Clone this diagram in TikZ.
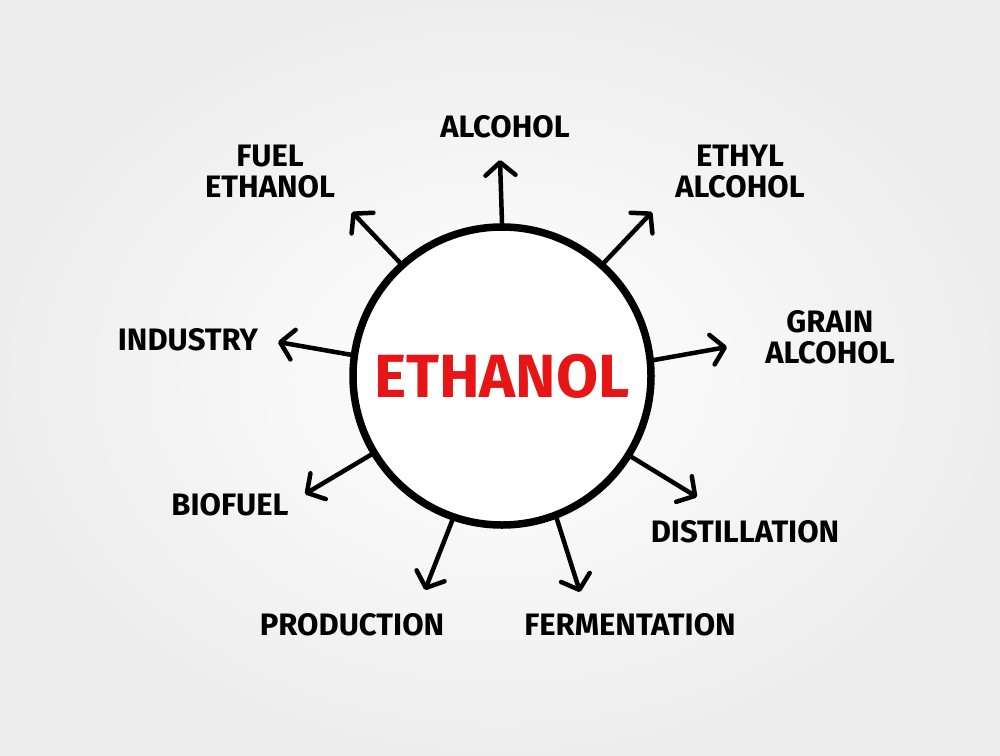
\documentclass[tikz,border=0pt]{standalone}
\usepackage{fontspec}
\setmainfont{Fira Sans}
\usetikzlibrary{arrows.meta}
\definecolor{inkred}{RGB}{230,22,22}

\begin{document}
\begin{tikzpicture}[x=1pt,y=-1pt,line cap=round,
  hub node/.style={circle,draw,line width=7.5pt,fill=white,minimum size=298pt,inner sep=0pt,
    font=\fontsize{61}{61}\selectfont\bfseries,text=inkred},
  word node/.style={font=\fontsize{31}{31}\selectfont\bfseries,align=center,inner sep=0pt},
  spoke/.style={line width=4.5pt,shorten <=-4pt,-{Straight Barb[length=13pt,width=30pt,round]}}]

  % background
  \shade[inner color=white,outer color=black!7] (0,0) rectangle (1000,755);
  \useasboundingbox (0,0) rectangle (1000,755);

  \node[hub node] (hub) at (502,376) {ETHANOL};

  \node[word node] (alcohol)  at (505,127) {ALCOHOL};
  \node[word node] (fuel)     at (270,172) {FUEL\\ETHANOL};
  \node[word node] (ethyl)    at (740,172) {ETHYL\\ALCOHOL};
  \node[word node] (industry) at (188,340) {INDUSTRY};
  \node[word node] (grain)    at (830,337) {GRAIN\\ALCOHOL};
  \node[word node] (biofuel)  at (230,505) {BIOFUEL};
  \node[word node] (distil)   at (745,532) {DISTILLATION};
  \node[word node] (prod)     at (352,625) {PRODUCTION};
  \node[word node] (ferm)     at (630,625) {FERMENTATION};

  \coordinate (alcohol tip)  at (500,160);
  \coordinate (fuel tip)     at (352,212);
  \coordinate (ethyl tip)    at (652,212);
  \coordinate (industry tip) at (278,342);
  \coordinate (grain tip)    at (727,347);
  \coordinate (biofuel tip)  at (305,494);
  \coordinate (distil tip)   at (697,497);
  \coordinate (prod tip)     at (425,590);
  \coordinate (ferm tip)     at (580,592);

  \path[spoke]
    (hub.90)    edge (alcohol tip)
    (hub.132.6) edge (fuel tip)
    (hub.48.8)  edge (ethyl tip)
    (hub.172.5) edge (industry tip)
    (hub.6)     edge (grain tip)
    (hub.211)   edge (biofuel tip)
    (hub.-32.3) edge (distil tip)
    (hub.-109.9) edge (prod tip)
    (hub.-69.4) edge (ferm tip);
\end{tikzpicture}
\end{document}
